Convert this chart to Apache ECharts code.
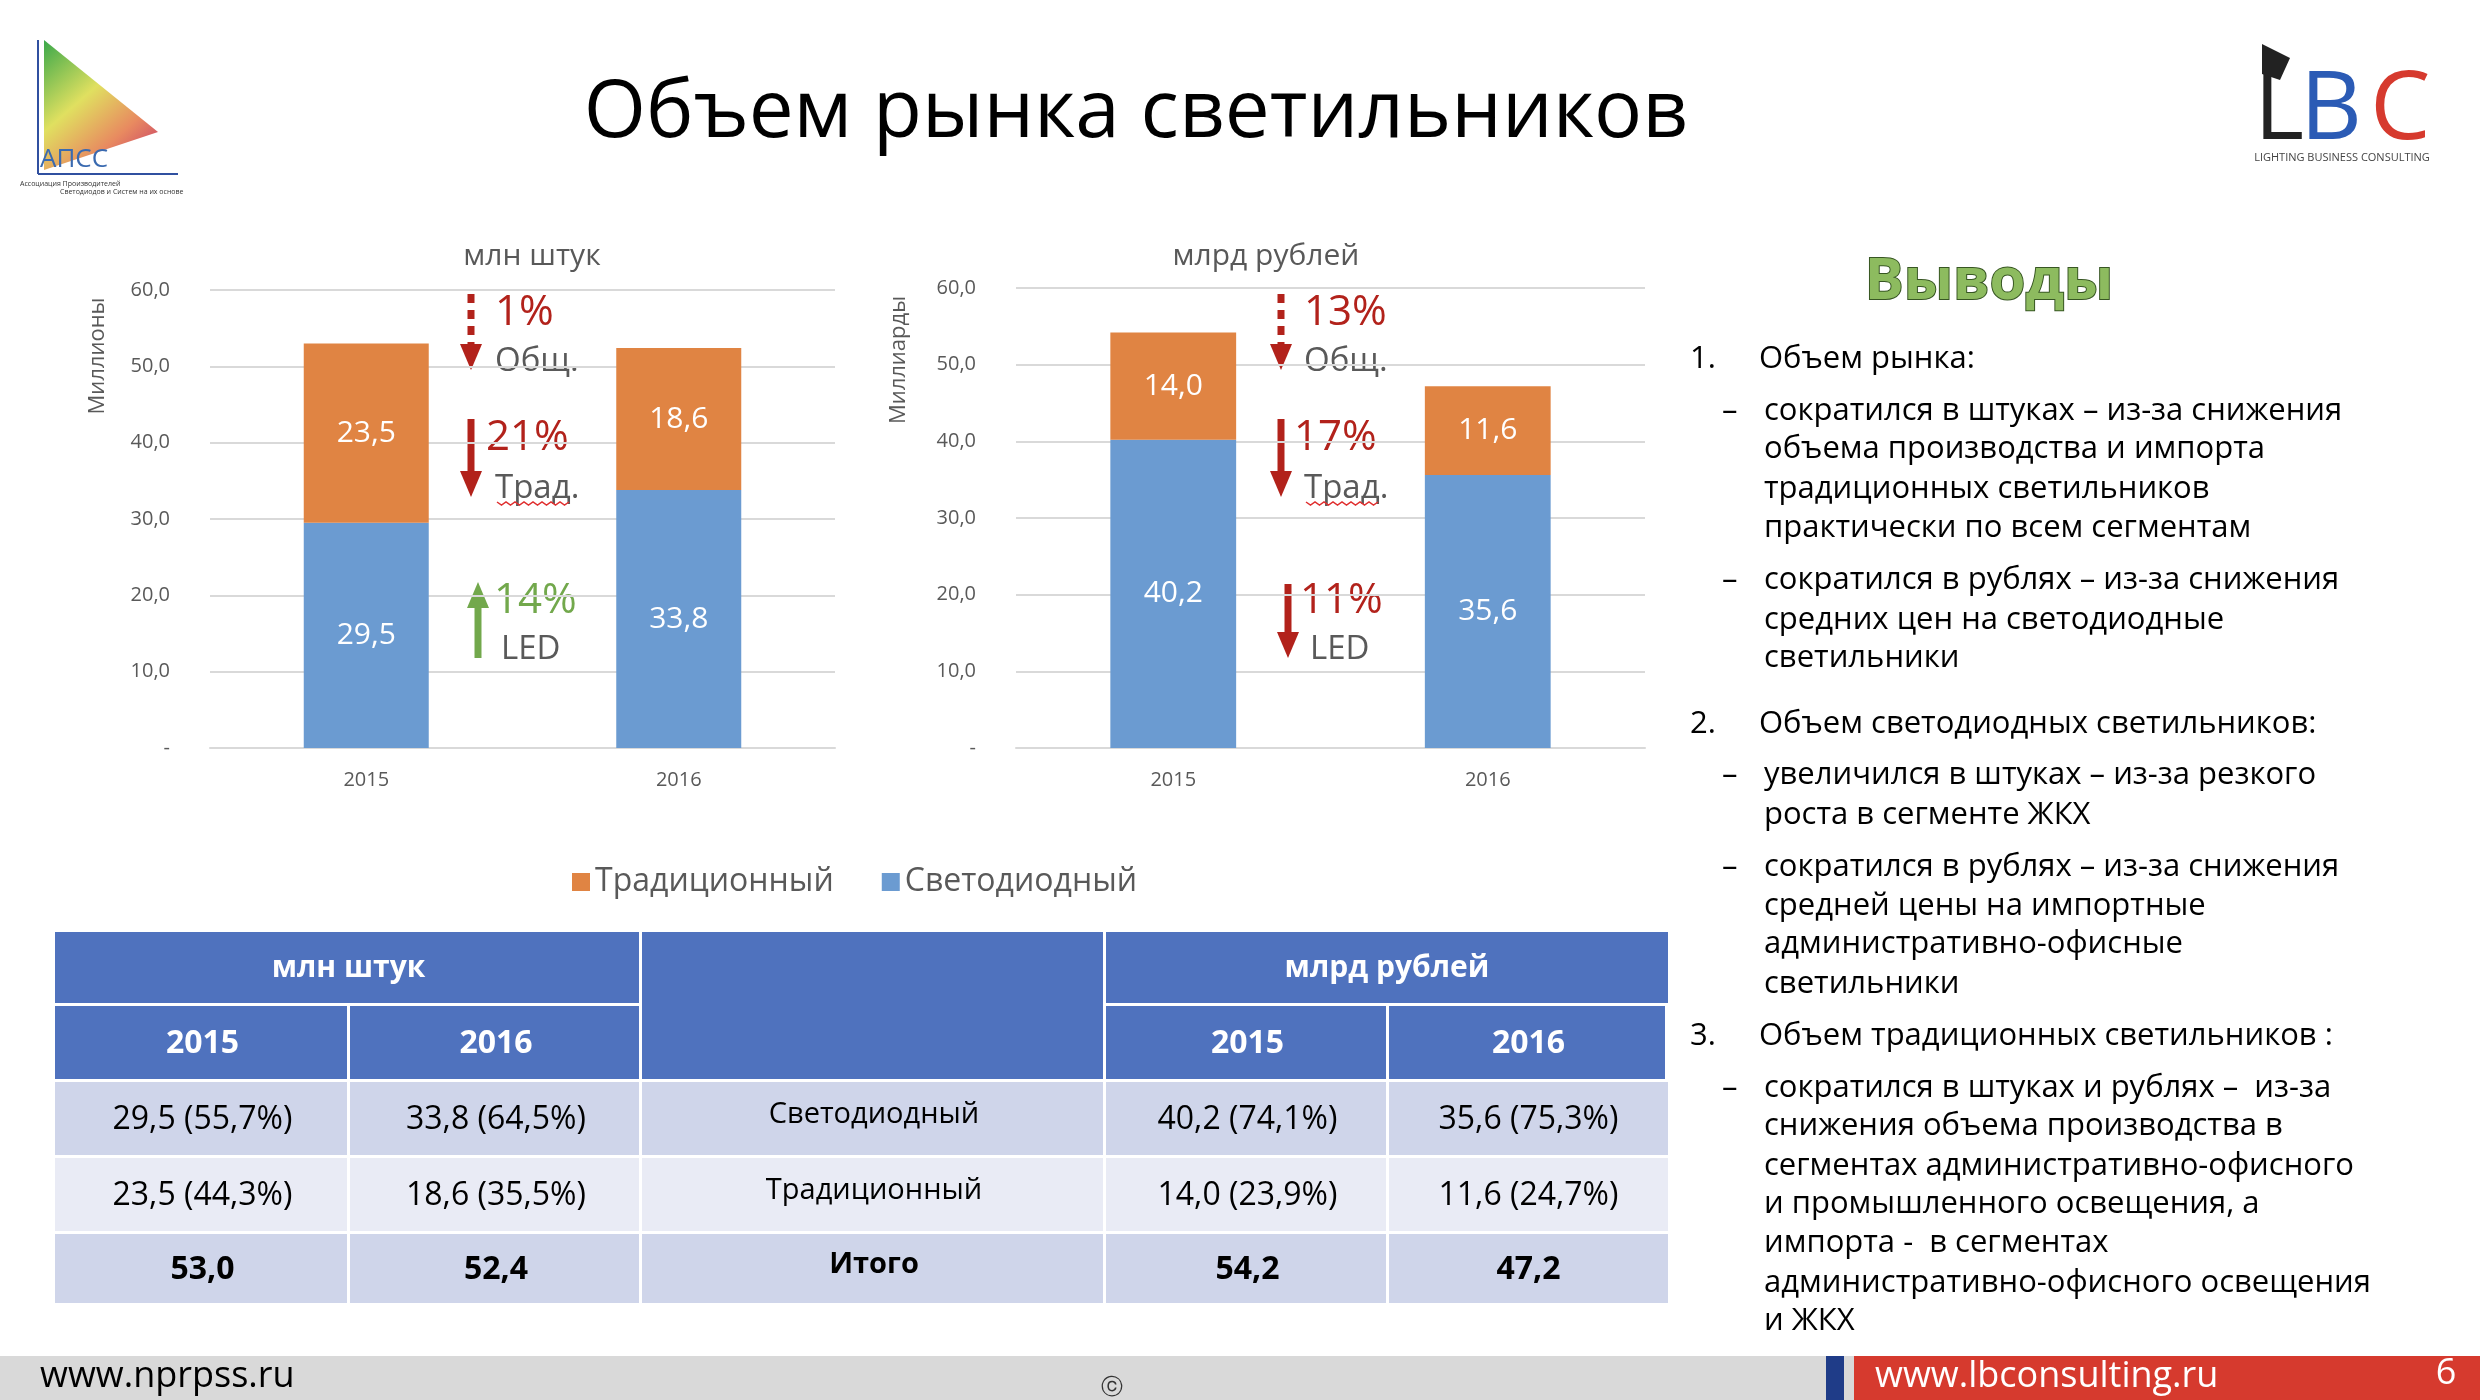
<!DOCTYPE html>
<html><head><meta charset="utf-8">
<script src="https://cdn.jsdelivr.net/npm/echarts@6/dist/echarts.min.js"></script>
<style>html,body{margin:0;padding:0;background:#fff}#c{width:2480px;height:1400px}</style>
</head><body><div id="c"></div>
<script>
const years = ['2015', '2016'];
const unitsLed = [29.5, 33.8];
const unitsTrad = [23.5, 18.6];
const rubLed = [40.2, 35.6];
const rubTrad = [14.0, 11.6];
const seriesNames = ['Традиционный', 'Светодиодный'];
const axisNames = ['Миллионы', 'Миллиарды'];
const tableHead1 = ['млн штук', '', 'млрд рублей'];
const tableRows = [
  ['29,5 (55,7%)', '33,8 (64,5%)', 'Светодиодный', '40,2 (74,1%)', '35,6 (75,3%)'],
  ['23,5 (44,3%)', '18,6 (35,5%)', 'Традиционный', '14,0 (23,9%)', '11,6 (24,7%)'],
  ['53,0', '52,4', 'Итого', '54,2', '47,2']
];
const conclusions = [
  ['n', '1.', 'Объем рынка:'],
  ['d', 'сократился в штуках – из-за снижения'],
  ['c', 'объема производства и импорта'],
  ['c', 'традиционных светильников'],
  ['c', 'практически по всем сегментам'],
  ['d', 'сократился в рублях – из-за снижения'],
  ['c', 'средних цен на светодиодные'],
  ['c', 'светильники'],
  ['n', '2.', 'Объем светодиодных светильников:'],
  ['d', 'увеличился в штуках – из-за резкого'],
  ['c', 'роста в сегменте ЖКХ'],
  ['d', 'сократился в рублях – из-за снижения'],
  ['c', 'средней цены на импортные'],
  ['c', 'административно-офисные'],
  ['c', 'светильники'],
  ['n', '3.', 'Объем традиционных светильников :'],
  ['d', 'сократился в штуках и рублях –  из-за'],
  ['c', 'снижения объема производства в'],
  ['c', 'сегментах административно-офисного'],
  ['c', 'и промышленного освещения, а'],
  ['c', 'импорта -  в сегментах'],
  ['c', 'административно-офисного освещения'],
  ['c', 'и ЖКХ']
];
const conclY = [359,411,449,489,528,580,620,658,724,775,815,867,906,944,984,1036,1088,1126,1166,1204,1243,1283,1321];

const F = 'Open Sans';
const ORANGE = '#e08443', BLUE = '#6b9bd1', RED = '#b2221b', GREEN = '#72a84c', GRAY = '#595959';
const fmt = v => v === 0 ? '-' : v.toFixed(1).replace('.', ',');
const lbl = v => v.toFixed(1).replace('.', ',');

function yAx(idx) {
  return {gridIndex: idx, min: 0, max: 60, interval: 10,
    axisLine: {show: false}, axisTick: {show: false},
    axisLabel: {formatter: fmt, fontFamily: F, fontSize: 20, color: GRAY, margin: 40},
    splitLine: {lineStyle: {color: '#d9d9d9', width: 2}}};
}
function xAx(idx) {
  return {gridIndex: idx, type: 'category', data: years, axisLine: {lineStyle: {color: '#d9d9d9', width: 2}},
    axisTick: {show: false}, axisLabel: {fontFamily: F, fontSize: 20, color: GRAY, margin: 22}};
}
function bar(name, data, idx, color) {
  return {name: name, type: 'bar', stack: 's' + idx, xAxisIndex: idx, yAxisIndex: idx, data: data, barWidth: '40%',
    itemStyle: {color: color},
    label: {show: true, position: 'inside', formatter: p => lbl(p.value), color: '#fff', fontFamily: F, fontSize: 30}};
}

const g = [];
function txt(x, y, t, size, color, opt) {
  g.push({type: 'text', x: x, y: y, rotation: (opt && opt.rot) || 0, style: Object.assign({text: t, font: (opt && opt.bold ? 'bold ' : '') + size + 'px "' + F + '"', fill: color, textAlign: (opt && opt.align) || 'left', textVerticalAlign: 'middle'}, (opt && opt.style) || {})});
}
function arrow(x, y1, y2, color, dashed) {
  const dir = y2 > y1 ? 1 : -1;
  const tip = y2, base = y2 - dir * 26;
  g.push({type: 'line', shape: {x1: x, y1: y1, x2: x, y2: base}, style: {stroke: color, lineWidth: 7, lineDash: dashed ? [9, 7] : null}});
  g.push({type: 'polygon', shape: {points: [[x - 11, base], [x + 11, base], [x, tip]]}, style: {fill: color}});
}
// titles
txt(1136, 114, 'Объем рынка светильников', 80, '#000', {align: 'center'});
txt(532, 256, 'млн штук', 30, GRAY, {align: 'center'});
txt(1266, 256, 'млрд рублей', 30, GRAY, {align: 'center'});
txt(98, 356, axisNames[0], 22, GRAY, {align: 'center', rot: Math.PI / 2, style: {letterSpacing: 2}});
txt(899, 360, axisNames[1], 22, GRAY, {align: 'center', rot: Math.PI / 2, style: {letterSpacing: 2}});
// chart 1 annotations
arrow(471, 294, 370, RED, true); txt(495, 313, '1%', 42, RED); txt(495, 362, 'Общ.', 33, GRAY);
arrow(471, 419, 497, RED, false); txt(486, 438, '21%', 42, RED); txt(495, 489, 'Трад.', 33, GRAY);
arrow(478, 658, 582, GREEN, false); txt(494, 601, '14%', 42, GREEN); txt(501, 650, 'LED', 33, GRAY);
// chart 2 annotations
arrow(1281, 294, 370, RED, true); txt(1304, 313, '13%', 42, RED); txt(1304, 362, 'Общ.', 33, GRAY);
arrow(1281, 419, 497, RED, false); txt(1294, 438, '17%', 42, RED); txt(1304, 489, 'Трад.', 33, GRAY);
arrow(1288, 584, 658, RED, false); txt(1300, 601, '11%', 42, RED); txt(1310, 650, 'LED', 33, GRAY);
[[497, 502], [1306, 502]].forEach(p => {
  const pts = []; for (let i = 0; i <= 16; i++) pts.push([p[0] + i * 4.5, p[1] + (i % 2 ? 3 : 0)]);
  g.push({type: 'polyline', shape: {points: pts}, style: {stroke: '#e03030', lineWidth: 1.5, fill: null}});
});

// table
const cx = [55, 350, 642, 1106, 1389, 1668];
const ry = [932, 1006, 1082, 1158, 1234, 1306];
const HB = '#4f72be';
function rect(x1, y1, x2, y2, fill) { g.push({type: 'rect', shape: {x: x1, y: y1, width: x2 - x1, height: y2 - y1}, style: {fill: fill}}); }
rect(cx[0], ry[0], cx[2] - 3, ry[0] + 71, HB);
rect(cx[2], ry[0], cx[3] - 3, ry[2] - 3, HB);
rect(cx[3], ry[0], cx[5], ry[0] + 71, HB);
[[0, 1], [1, 2], [3, 4], [4, 5]].forEach(c => rect(cx[c[0]], ry[1], cx[c[1]] - 3, ry[2] - 3, HB));
txt((cx[0] + cx[2]) / 2, 968, tableHead1[0], 30, '#fff', {align: 'center', bold: true});
txt((cx[3] + cx[5]) / 2, 968, tableHead1[2], 30, '#fff', {align: 'center', bold: true});
[[0, 1], [1, 2], [3, 4], [4, 5]].forEach((c, i) => txt((cx[c[0]] + cx[c[1]]) / 2, 1044, years[i % 2], 32, '#fff', {align: 'center', bold: true}));
tableRows.forEach((row, r) => {
  const fill = r === 1 ? '#e9ebf5' : '#cfd5ea';
  for (let c = 0; c < 5; c++) {
    rect(cx[c], ry[r + 2], cx[c + 1] - (c < 4 ? 3 : 0), ry[r + 3] - 3, fill);
    const mid = c === 2;
    txt((cx[c] + cx[c + 1]) / 2, (ry[r + 2] + ry[r + 3]) / 2 - (mid ? 5 : 0), row[c], mid ? 29 : 32, '#000', {align: 'center', bold: r === 2});
  }
});

// conclusions
txt(1989, 282, 'Выводы', 58, '#8dbb5f', {align: 'center', bold: true, style: {stroke: '#375623', lineWidth: 2}});
conclusions.forEach((it, i) => {
  const y = conclY[i];
  if (it[0] === 'n') { txt(1690, y, it[1], 31, '#000'); txt(1759, y, it[2], 31, '#000'); }
  else if (it[0] === 'd') { txt(1722, y, '–', 31, '#000'); txt(1764, y, it[1], 31, '#000'); }
  else txt(1764, y, it[1], 31, '#000');
});

// footer
rect(0, 1356, 2480, 1400, '#d9d9d9');
rect(1826, 1356, 1844, 1400, '#1f3c88');
rect(1854, 1356, 2480, 1400, '#d63a2e');
txt(40, 1377, 'www.nprpss.ru', 36, '#000');
txt(1875, 1377, 'www.lbconsulting.ru', 36, '#fff');
txt(2446, 1374, '6', 36, '#fff', {align: 'center'});
txt(1112, 1388, 'ⓒ', 22, '#333', {align: 'center'});

// left logo
g.push({type: 'polygon', shape: {points: [[44, 40], [158, 132], [44, 170]]},
  style: {fill: {type: 'linear', x: 0, y: 0, x2: 1, y2: 1, colorStops: [{offset: 0, color: '#3aa84a'}, {offset: 0.4, color: '#e0e060'}, {offset: 0.7, color: '#e88a60'}, {offset: 1, color: '#c02a6a'}]}}});
g.push({type: 'line', shape: {x1: 38, y1: 174, x2: 178, y2: 174}, style: {stroke: '#3050a0', lineWidth: 2}});
g.push({type: 'line', shape: {x1: 38, y1: 174, x2: 38, y2: 40}, style: {stroke: '#3050a0', lineWidth: 2}});
txt(74, 160, 'АПСС', 26, '#3a6ab0', {align: 'center'});
txt(20, 184, 'Ассоциация Производителей', 7, '#333');
txt(60, 192, 'Светодиодов и Систем на их основе', 7, '#333');
// right logo
txt(2254, 112, 'L', 96, '#222', {});
txt(2300, 112, 'B', 96, '#2b5bb5', {});
txt(2370, 112, 'C', 96, '#d63a2e', {});
g.push({type: 'polygon', shape: {points: [[2262, 44], [2290, 58], [2280, 80], [2262, 74]]}, style: {fill: '#222'}});
txt(2342, 158, 'LIGHTING BUSINESS CONSULTING', 11, '#444', {align: 'center'});

const chart = echarts.init(document.getElementById('c'));
chart.setOption({
  animation: false,
  textStyle: {fontFamily: F},
  grid: [{left: 210, top: 290, width: 625, height: 458}, {left: 1016, top: 288, width: 629, height: 460}],
  xAxis: [xAx(0), xAx(1)],
  yAxis: [yAx(0), yAx(1)],
  legend: {data: seriesNames, left: 572, top: 866, itemWidth: 18, itemHeight: 18, itemGap: 48, icon: 'rect',
    textStyle: {fontFamily: F, fontSize: 32, color: GRAY}, padding: [0, 0, 0, 0]},
  series: [
    bar(seriesNames[1], unitsLed, 0, BLUE), bar(seriesNames[0], unitsTrad, 0, ORANGE),
    bar(seriesNames[1], rubLed, 1, BLUE), bar(seriesNames[0], rubTrad, 1, ORANGE)
  ],
  graphic: g
});
</script></body></html>
